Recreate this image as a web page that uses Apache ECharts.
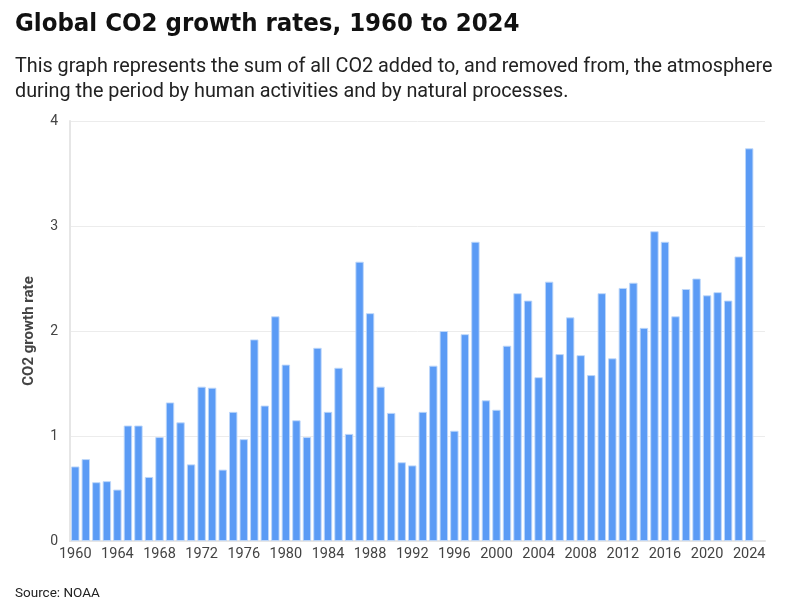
<!DOCTYPE html>
<html>
<head>
<meta charset="utf-8">
<script src="https://cdn.jsdelivr.net/npm/echarts@6/dist/echarts.min.js"></script>
<style>
html, body { margin: 0; padding: 0; background: #fff; }
#chart { width: 795px; height: 609px; }
</style>
</head>
<body>
<div id="chart"></div>
<script>
// years 1960..2024, plus one empty slot at the right like the original
var years = [];
for (var y = 1960; y <= 2024; y++) years.push(String(y));
years.push('');

// CO2 growth rate
var growthRates = [
  0.71, 0.78, 0.56, 0.57, 0.49, 1.10, 1.10, 0.61, 0.99, 1.32,
  1.13, 0.73, 1.47, 1.46, 0.68, 1.23, 0.97, 1.92, 1.29, 2.14,
  1.68, 1.15, 0.99, 1.84, 1.23, 1.65, 1.02, 2.66, 2.17, 1.47,
  1.22, 0.75, 0.72, 1.23, 1.67, 2.00, 1.05, 1.97, 2.85, 1.34,
  1.25, 1.86, 2.36, 2.29, 1.56, 2.47, 1.78, 2.13, 1.77, 1.58,
  2.36, 1.74, 2.41, 2.46, 2.03, 2.95, 2.85, 2.14, 2.40, 2.50,
  2.34, 2.37, 2.29, 2.71, 3.74
];

var titleText = 'Global CO2 growth rates, 1960 to 2024';
var subText = 'This graph represents the sum of all CO2 added to, and removed from, the atmosphere\nduring the period by human activities and by natural processes.';
var sourceText = 'Source: NOAA';

var chart = echarts.init(document.getElementById('chart'));
chart.setOption({
  animation: false,
  backgroundColor: '#fff',
  title: [
    {
      text: titleText,
      left: 10, top: 6,
      textStyle: { fontFamily: 'DejaVu Sans Condensed', fontWeight: 'bold', fontSize: 25.5, color: '#111' }
    },
    {
      text: subText,
      left: 10, top: 50,
      textStyle: { fontFamily: 'Roboto', fontWeight: 'normal', fontSize: 19.8, lineHeight: 25, color: '#222' }
    },
    {
      text: sourceText,
      left: 10, top: 582,
      textStyle: { fontFamily: 'Roboto', fontWeight: 'normal', fontSize: 13.5, color: '#222' }
    }
  ],
  grid: { left: 70, right: 30, top: 121, bottom: 68 },
  xAxis: {
    type: 'category',
    data: years,
    axisLine: { lineStyle: { color: '#e6e6e6', width: 2 } },
    axisTick: {
      alignWithLabel: true,
      interval: function (i) { return i < growthRates.length; },
      lineStyle: { color: '#e6e6e6' }
    },
    axisLabel: { interval: 3, color: '#444', fontSize: 14.5, fontFamily: 'Roboto', margin: 6 }
  },
  yAxis: {
    type: 'value',
    min: 0, max: 4, interval: 1,
    name: 'CO2 growth rate',
    nameLocation: 'middle',
    nameGap: 33,
    nameTextStyle: { fontFamily: 'Roboto', fontWeight: 'bold', fontSize: 15, color: '#444' },
    axisLine: { show: true, lineStyle: { color: '#e6e6e6', width: 2 } },
    axisLabel: { color: '#444', fontSize: 14, fontFamily: 'Roboto', margin: 12 },
    splitLine: { lineStyle: { color: '#ececec' } }
  },
  series: [{
    type: 'bar',
    data: growthRates,
    barCategoryGap: '20%',
    itemStyle: { color: '#5b9bf5', borderColor: 'rgba(190,215,250,0.9)', borderWidth: 1 }
  }]
});
</script>
</body>
</html>
